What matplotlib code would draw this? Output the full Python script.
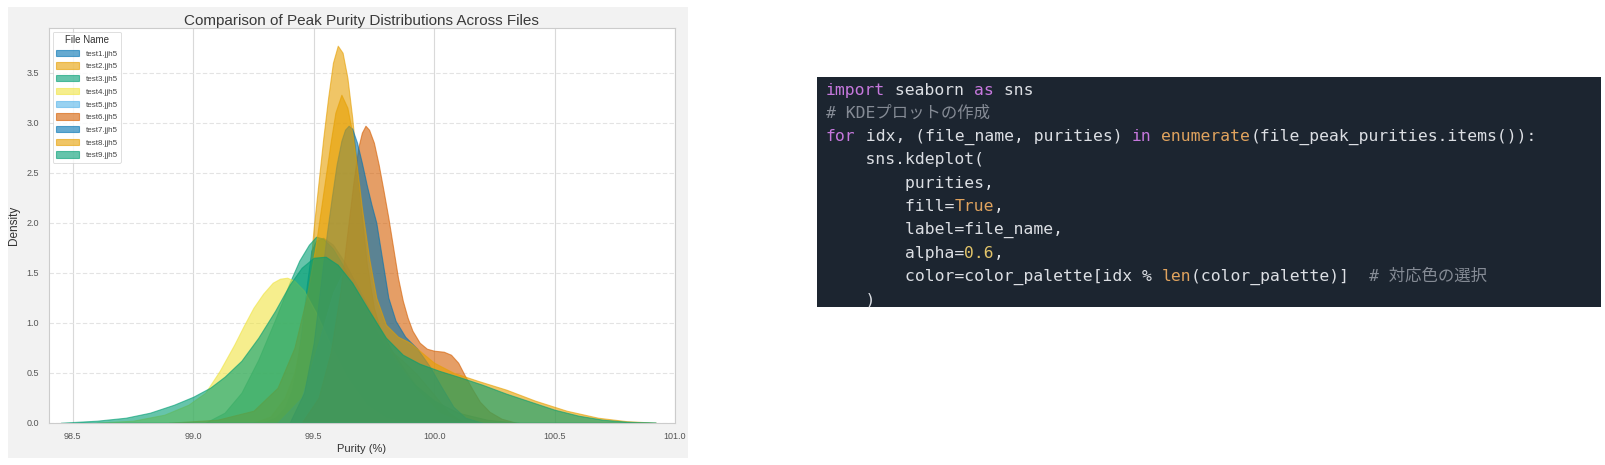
import matplotlib
matplotlib.use("Agg")
import matplotlib.pyplot as plt
from matplotlib.patches import Rectangle

plt.rcParams["font.family"] = ["Liberation Sans", "DejaVu Sans"]

W, H = 1606, 465

# ------------------------------------------------------------
# KDE curves: purity (%) -> density
# ------------------------------------------------------------
FILE_NAMES = ["test1.jjh5", "test2.jjh5", "test3.jjh5", "test4.jjh5", "test5.jjh5",
              "test6.jjh5", "test7.jjh5", "test8.jjh5", "test9.jjh5"]

TEST1_X = [99.29, 99.34, 99.38, 99.41, 99.43, 99.45, 99.47, 99.49, 99.51, 99.54,
           99.58, 99.63, 99.69, 99.76, 99.83, 99.90, 99.97, 100.04, 100.12]
TEST1_Y = [0.00, 0.05, 0.15, 0.33, 0.58, 0.93, 1.35, 1.72, 1.82, 1.85,
           1.78, 1.60, 1.32, 1.00, 0.70, 0.45, 0.22, 0.07, 0.00]

TEST2_X = [99.25, 99.32, 99.38, 99.42, 99.45, 99.48, 99.50, 99.52, 99.54, 99.56,
           99.58, 99.60, 99.62, 99.64, 99.66, 99.68, 99.70, 99.72, 99.75, 99.78,
           99.82, 99.87, 99.93, 100.00, 100.06, 100.12]
TEST2_Y = [0.00, 0.06, 0.25, 0.50, 0.85, 1.40, 1.95, 2.40, 2.85, 3.25,
           3.60, 3.77, 3.70, 3.45, 3.05, 2.55, 2.05, 1.60, 1.15, 0.90,
           0.72, 0.62, 0.48, 0.28, 0.10, 0.00]

TEST3_X = [99.05, 99.13, 99.20, 99.27, 99.34, 99.40, 99.44, 99.48, 99.51, 99.54,
           99.58, 99.62, 99.67, 99.72, 99.78, 99.85, 99.92, 100.00, 100.10, 100.22,
           100.35]
TEST3_Y = [0.00, 0.10, 0.30, 0.63, 1.03, 1.40, 1.62, 1.78, 1.86, 1.84,
           1.74, 1.58, 1.35, 1.10, 0.82, 0.56, 0.38, 0.22, 0.10, 0.03,
           0.00]

TEST4_X = [98.60, 98.75, 98.88, 98.98, 99.05, 99.11, 99.17, 99.21, 99.25, 99.29,
           99.33, 99.36, 99.39, 99.42, 99.46, 99.51, 99.57, 99.64, 99.72, 99.80,
           99.90]
TEST4_Y = [0.00, 0.02, 0.08, 0.18, 0.30, 0.52, 0.78, 0.97, 1.15, 1.29,
           1.40, 1.44, 1.45, 1.42, 1.32, 1.10, 0.78, 0.45, 0.18, 0.05,
           0.00]

TEST5_X = [99.35, 99.45, 99.52, 99.58, 99.62, 99.67, 99.74, 99.82, 99.92, 100.02, 100.12]
TEST5_Y = [0.00, 0.25, 0.80, 1.30, 1.50, 1.42, 1.10, 0.70, 0.35, 0.10, 0.00]

TEST6_X = [99.45, 99.52, 99.57, 99.61, 99.64, 99.665, 99.685, 99.70, 99.715, 99.73,
           99.75, 99.77, 99.79, 99.81, 99.83, 99.85, 99.87, 99.89, 99.91, 99.94,
           99.97, 100.00, 100.04, 100.07, 100.10, 100.13, 100.16, 100.19, 100.23, 100.28,
           100.34]
TEST6_Y = [0.00, 0.25, 0.70, 1.30, 1.90, 2.40, 2.75, 2.90, 2.97, 2.93,
           2.80, 2.58, 2.32, 2.05, 1.75, 1.45, 1.22, 1.05, 0.92, 0.80,
           0.74, 0.72, 0.71, 0.68, 0.60, 0.46, 0.33, 0.21, 0.11, 0.04,
           0.00]

TEST7_X = [99.40, 99.46, 99.50, 99.53, 99.555, 99.575, 99.595, 99.615, 99.63, 99.645,
           99.66, 99.68, 99.70, 99.72, 99.74, 99.76, 99.78, 99.81, 99.84, 99.88,
           99.93, 99.98, 100.03, 100.08, 100.13, 100.20]
TEST7_Y = [0.00, 0.30, 0.80, 1.40, 1.90, 2.25, 2.58, 2.82, 2.93, 2.97,
           2.94, 2.80, 2.60, 2.38, 2.18, 2.00, 1.70, 1.25, 1.02, 0.86,
           0.74, 0.57, 0.36, 0.16, 0.05, 0.00]

TEST8_X = [98.90, 99.10, 99.25, 99.35, 99.42, 99.47, 99.51, 99.54, 99.57, 99.59,
           99.615, 99.64, 99.66, 99.68, 99.70, 99.73, 99.76, 99.80, 99.85, 99.90,
           99.95, 100.00, 100.08, 100.18, 100.30, 100.42, 100.55, 100.68, 100.80, 100.92]
TEST8_Y = [0.00, 0.03, 0.12, 0.35, 0.75, 1.25, 1.80, 2.30, 2.80, 3.10,
           3.28, 3.15, 2.90, 2.55, 2.15, 1.65, 1.25, 0.98, 0.86, 0.80,
           0.70, 0.60, 0.50, 0.42, 0.33, 0.22, 0.12, 0.05, 0.015, 0.00]

TEST9_X = [98.45, 98.60, 98.72, 98.82, 98.92, 99.00, 99.07, 99.13, 99.20, 99.27,
           99.34, 99.40, 99.45, 99.50, 99.55, 99.60, 99.66, 99.73, 99.80, 99.87,
           99.94, 100.02, 100.10, 100.20, 100.30, 100.40, 100.50, 100.60, 100.70, 100.80,
           100.92]
TEST9_Y = [0.00, 0.02, 0.05, 0.10, 0.18, 0.26, 0.35, 0.46, 0.62, 0.85,
           1.12, 1.38, 1.55, 1.65, 1.66, 1.58, 1.40, 1.12, 0.85, 0.68,
           0.59, 0.52, 0.46, 0.38, 0.29, 0.21, 0.13, 0.07, 0.03, 0.01,
           0.00]

CURVES_X = [TEST1_X, TEST2_X, TEST3_X, TEST4_X, TEST5_X, TEST6_X, TEST7_X, TEST8_X, TEST9_X]
CURVES_Y = [TEST1_Y, TEST2_Y, TEST3_Y, TEST4_Y, TEST5_Y, TEST6_Y, TEST7_Y, TEST8_Y, TEST9_Y]

COLOR_PALETTE = ["#0072B2", "#E69F00", "#009E73", "#F0E442", "#56B4E9", "#D55E00"]

X_TICKS = [98.5, 99.0, 99.5, 100.0, 100.5, 101.0]
Y_TICKS = [0.0, 0.5, 1.0, 1.5, 2.0, 2.5, 3.0, 3.5]

# code screenshot on the right: (text, colour) segments per line
KW, TXT, COM, FN, NUM = "#c678dd", "#dcdfe4", "#858b95", "#e0a35e", "#e2c46a"
CODE_LINES = [
    [("import", KW), (" seaborn ", TXT), ("as", KW), (" sns", TXT)],
    [("# KDEプロットの作成", COM)],
    [("for", KW), (" idx, (file_name, purities) ", TXT), ("in", KW), (" ", TXT),
     ("enumerate", FN), ("(file_peak_purities.items()):", TXT)],
    [("    sns.kdeplot(", TXT)],
    [("        purities,", TXT)],
    [("        fill=", TXT), ("True", FN), (",", TXT)],
    [("        label=file_name,", TXT)],
    [("        alpha=", TXT), ("0.6", NUM), (",", TXT)],
    [("        color=color_palette[idx % ", TXT), ("len", FN), ("(color_palette)]  ", TXT),
     ("# 対応色の選択", COM)],
    [("    )", TXT)],
]


def fx(px):
    return px / W


def fy(py):
    return 1 - py / H


fig = plt.figure(figsize=(W / 100, H / 100), dpi=100)
fig.patch.set_facecolor("white")

# grey panel behind the chart
fig.patches.append(Rectangle((fx(8), fy(458)), fx(688) - fx(8), fy(7) - fy(458),
                             transform=fig.transFigure, facecolor="#f2f2f2",
                             edgecolor="none", zorder=-1))

ax = fig.add_axes([fx(48.7), fy(422.7), fx(675) - fx(48.7), fy(27.7) - fy(422.7)])
ax.set_facecolor("white")

for idx, name in enumerate(FILE_NAMES):
    c = COLOR_PALETTE[idx % len(COLOR_PALETTE)]
    ax.fill_between(CURVES_X[idx], CURVES_Y[idx], color=c, alpha=0.6, lw=0.8, label=name)

ax.set_xlim(98.4, 101.0)
ax.set_ylim(0, 3.95)
ax.set_xticks(X_TICKS)
ax.set_yticks(Y_TICKS)
ax.set_xticklabels([f"{v:.1f}" for v in X_TICKS])
ax.set_yticklabels([f"{v:.1f}" for v in Y_TICKS])
ax.tick_params(length=0, labelsize=6.5, labelcolor="#555555", pad=7)
ax.set_axisbelow(True)
ax.grid(axis="x", color="#d9d9d9", lw=0.8)
ax.grid(axis="y", color="#e3e3e3", lw=0.8, ls=(0, (4, 2)))
for s in ax.spines.values():
    s.set_color("#cccccc")
    s.set_linewidth(0.8)

ax.set_title("Comparison of Peak Purity Distributions Across Files",
             fontsize=11, color="#3a3a3a", pad=2)
ax.set_xlabel("Purity (%)", fontsize=8, color="#333333", labelpad=2)
ax.set_ylabel("Density", fontsize=8.5, color="#333333", labelpad=5)

leg = ax.legend(title="File Name", loc="upper left", fontsize=5.8, title_fontsize=7,
                handlelength=2.9, handleheight=0.8, labelspacing=0.6,
                borderaxespad=0.5, frameon=True, fancybox=True)
leg.get_frame().set_facecolor("white")
leg.get_frame().set_edgecolor("#d0d0d0")
leg.get_frame().set_linewidth(0.6)
for t in leg.get_texts():
    t.set_color("#444444")
leg.get_title().set_color("#333333")

# code panel
fig.patches.append(Rectangle((fx(817), fy(307)), fx(1601) - fx(817), fy(77) - fy(307),
                             transform=fig.transFigure, facecolor="#1c2530",
                             edgecolor="none", zorder=-1))

FONT_PT = 11.8
CHAR_W = 0.602 * FONT_PT * 100 / 72   # px per monospace column
for i, segs in enumerate(CODE_LINES):
    y = 90 + i * 23.3
    col = 0
    for text, color in segs:
        fig.text(fx(826 + col * CHAR_W), fy(y), text, color=color, fontsize=FONT_PT,
                 family=["DejaVu Sans Mono", "Noto Sans CJK JP"], va="center", ha="left")
        col += len(text)

fig.savefig("out.png", dpi=100)
